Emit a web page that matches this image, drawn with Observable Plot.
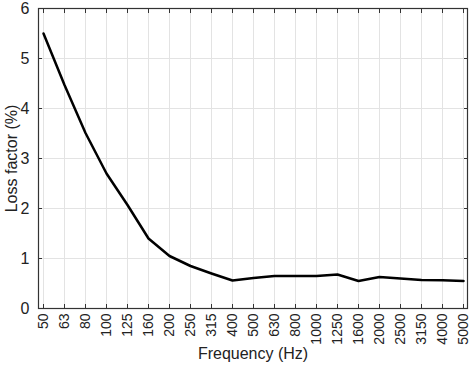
<!DOCTYPE html>
<html>
<head>
<meta charset="utf-8">
<script src="https://cdn.jsdelivr.net/npm/d3@7"></script>
<script src="https://cdn.jsdelivr.net/npm/@observablehq/plot@0.6"></script>
<style>
  html, body { margin: 0; padding: 0; background: #fff; }
  #chart svg { display: block; }
</style>
</head>
<body>
<div id="chart"></div>
<script>
const frequencies = ["50","63","80","100","125","160","200","250","315","400","500","630","800","1000","1250","1600","2000","2500","3150","4000","5000"];
const lossFactor = [5.5, 4.47, 3.51, 2.7, 2.07, 1.4, 1.05, 0.85, 0.7, 0.56, 0.61, 0.65, 0.65, 0.65, 0.68, 0.55, 0.63, 0.6, 0.57, 0.565, 0.55];
const yTicks = [0, 1, 2, 3, 4, 5, 6];

const data = frequencies.map((f, i) => ({f, v: lossFactor[i]}));
const font = "'Liberation Sans', Arial, Helvetica, sans-serif";

const chart = Plot.plot({
  width: 474,
  height: 371,
  marginLeft: 38,
  marginRight: 7,
  marginTop: 8,
  marginBottom: 63,
  style: {fontFamily: font, fontSize: "15px", color: "#222", background: "#fff"},
  x: {type: "point", domain: frequencies, padding: 0},
  y: {domain: [0, 6]},
  marks: [
    Plot.gridX({stroke: "#e3e3e3", strokeOpacity: 1, strokeWidth: 1}),
    Plot.gridY(yTicks, {stroke: "#e3e3e3", strokeOpacity: 1, strokeWidth: 1}),
    Plot.axisY(yTicks, {anchor: "left", tickSize: -4, tickPadding: 13, stroke: "#333", fontSize: 16, tickFormat: d => String(d), label: null}),
    Plot.axisY([], {anchor: "left", tickSize: 0, fontSize: 16, label: "Loss factor (%)", labelAnchor: "center", labelArrow: "none", labelOffset: 33}),
    Plot.axisY(yTicks, {anchor: "right", tickSize: -4, stroke: "#333", tickFormat: () => "", label: null}),
    Plot.axisX({anchor: "bottom", tickSize: -4, tickPadding: 9, tickRotate: -90, stroke: "#333", fontSize: 14, label: null}),
    Plot.axisX([], {anchor: "bottom", tickSize: 0, fontSize: 16, label: "Frequency (Hz)", labelAnchor: "center", labelArrow: "none", labelOffset: 50}),
    Plot.axisX({anchor: "top", tickSize: -4, stroke: "#333", tickFormat: () => "", label: null}),
    Plot.frame({stroke: "#333", strokeWidth: 1.2}),
    Plot.line(data, {x: "f", y: "v", stroke: "#000", strokeWidth: 2.5})
  ]
});
document.getElementById("chart").appendChild(chart);
</script>
</body>
</html>
